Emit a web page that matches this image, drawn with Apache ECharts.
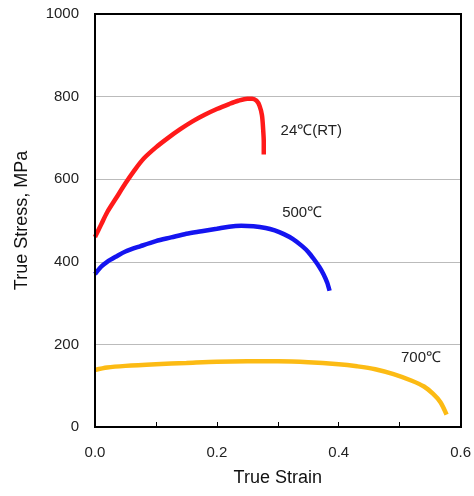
<!DOCTYPE html>
<html><head><meta charset="utf-8">
<script src="https://cdn.jsdelivr.net/npm/echarts@6/dist/echarts.min.js"></script>
<style>html,body{margin:0;padding:0;background:#fff}#c{width:474px;height:496px}</style>
</head><body><div id="c"></div>
<script>
const rtData=[[0,460],[0.01,490],[0.02,520],[0.035,555],[0.05,590],[0.065,622],[0.08,650],[0.1,677],[0.12,700],[0.14,721],[0.16,740],[0.18,756],[0.2,770],[0.22,782],[0.235,790],[0.25,795],[0.258,795],[0.265,790],[0.27,778],[0.274,755],[0.276,720],[0.277,690],[0.277,660]];
const t500Data=[[0,370],[0.01,388],[0.02,400],[0.035,413],[0.05,425],[0.075,438],[0.1,450],[0.125,459],[0.15,468],[0.175,474],[0.2,480],[0.22,485],[0.24,487],[0.26,486],[0.28,482],[0.295,476],[0.31,467],[0.325,455],[0.34,438],[0.35,424],[0.36,405],[0.368,388],[0.375,370],[0.381,350],[0.385,330]];
const t700Data=[[0,138],[0.02,144],[0.05,148],[0.1,152],[0.15,155],[0.2,158],[0.25,159],[0.3,159],[0.35,157],[0.4,152],[0.43,147],[0.46,140],[0.49,128],[0.52,112],[0.54,98],[0.555,80],[0.567,60],[0.577,30]];
const labels=[{t:'24℃(RT)',x:0.355,y:718},{t:'500℃',x:0.34,y:518},{t:'700℃',x:0.535,y:167}];
const xTicks=[0,0.2,0.4,0.6], yTicks=[0,200,400,600,800,1000];
const ch=echarts.init(document.getElementById('c'));
const font='Liberation Sans, Arial, sans-serif';
function mk(name,data,color,lab){
  return {name,type:'line',data,showSymbol:false,smooth:0.3,lineStyle:{color,width:4.5},
    markPoint:{symbol:'circle',symbolSize:0,data:[{coord:[lab.x,lab.y],label:{show:true,formatter:lab.t,color:'#222',fontSize:15,fontFamily:font}}]}};
}
ch.setOption({
  animation:false,
  grid:{left:95,right:13,top:14,bottom:69},
  xAxis:{type:'value',min:0,max:0.6,interval:0.1,name:'True Strain',nameLocation:'middle',nameGap:42,
    nameTextStyle:{fontSize:18,color:'#111',fontFamily:font},
    axisLine:{lineStyle:{color:'#000',width:2}},axisTick:{inside:true,length:5,lineStyle:{color:'#000'}},
    splitLine:{show:false},
    axisLabel:{fontSize:15,color:'#222',fontFamily:font,margin:18,formatter:v=>{const m=xTicks.find(t=>Math.abs(t-v)<1e-6);return m===undefined?'':m.toFixed(1);}}},
  yAxis:{type:'value',min:0,max:1000,interval:200,name:'True Stress, MPa',nameLocation:'middle',nameGap:64,
    nameTextStyle:{fontSize:18,color:'#111',fontFamily:font},
    axisLine:{lineStyle:{color:'#000',width:2}},axisTick:{show:false},
    splitLine:{lineStyle:{color:'#bbb',width:1}},
    axisLabel:{fontSize:15,color:'#222',fontFamily:font,margin:16,formatter:v=>yTicks.includes(v)?String(v):''}},
  graphic:[{type:'rect',shape:{x:95,y:14,width:366,height:413},style:{fill:'none',stroke:'#000',lineWidth:2},silent:true,z:10}],
  series:[mk('RT',rtData,'#ff1a1a',labels[0]),mk('500',t500Data,'#1414f0',labels[1]),mk('700',t700Data,'#fcbb14',labels[2])]
});
</script></body></html>
